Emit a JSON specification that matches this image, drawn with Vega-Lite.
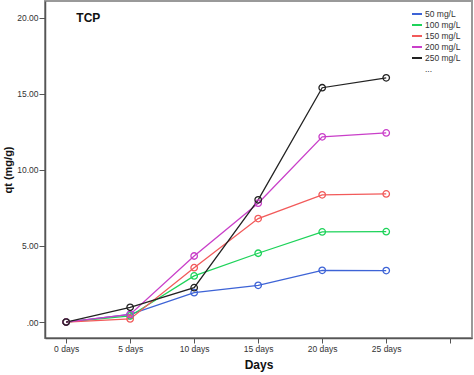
{
  "$schema": "https://vega.github.io/schema/vega-lite/v6.json",
  "autosize": {"type": "none"},
  "width": 427,
  "height": 337,
  "padding": {"left": 45, "top": 1, "right": 2, "bottom": 37},
  "background": "white",
  "config": {
    "font": "Liberation Sans",
    "view": {"stroke": "#999999", "strokeWidth": 2}
  },
  "datasets": {
    "series": [
      {"day": 0, "series": "50 mg/L", "qt": 0},
      {"day": 5, "series": "50 mg/L", "qt": 0.5},
      {"day": 10, "series": "50 mg/L", "qt": 1.93},
      {"day": 15, "series": "50 mg/L", "qt": 2.41},
      {"day": 20, "series": "50 mg/L", "qt": 3.4},
      {"day": 25, "series": "50 mg/L", "qt": 3.38},
      {"day": 0, "series": "100 mg/L", "qt": 0},
      {"day": 5, "series": "100 mg/L", "qt": 0.4},
      {"day": 10, "series": "100 mg/L", "qt": 3.03},
      {"day": 15, "series": "100 mg/L", "qt": 4.52},
      {"day": 20, "series": "100 mg/L", "qt": 5.92},
      {"day": 25, "series": "100 mg/L", "qt": 5.94},
      {"day": 0, "series": "150 mg/L", "qt": 0},
      {"day": 5, "series": "150 mg/L", "qt": 0.2},
      {"day": 10, "series": "150 mg/L", "qt": 3.57},
      {"day": 15, "series": "150 mg/L", "qt": 6.8},
      {"day": 20, "series": "150 mg/L", "qt": 8.36},
      {"day": 25, "series": "150 mg/L", "qt": 8.42},
      {"day": 0, "series": "200 mg/L", "qt": 0},
      {"day": 5, "series": "200 mg/L", "qt": 0.5},
      {"day": 10, "series": "200 mg/L", "qt": 4.34},
      {"day": 15, "series": "200 mg/L", "qt": 7.81},
      {"day": 20, "series": "200 mg/L", "qt": 12.17},
      {"day": 25, "series": "200 mg/L", "qt": 12.43},
      {"day": 0, "series": "250 mg/L", "qt": 0},
      {"day": 5, "series": "250 mg/L", "qt": 0.97},
      {"day": 10, "series": "250 mg/L", "qt": 2.26},
      {"day": 15, "series": "250 mg/L", "qt": 8.03},
      {"day": 20, "series": "250 mg/L", "qt": 15.4},
      {"day": 25, "series": "250 mg/L", "qt": 16.05}
    ],
    "label": [
      {"day": 0.8, "qt": 20, "text": "TCP"}
    ]
  },
  "data": {"name": "series"},
  "encoding": {
    "x": {
      "field": "day", "type": "quantitative",
      "scale": {"domain": [-1.65, 31.7], "nice": false, "zero": false},
      "axis": {
        "values": [0, 5, 10, 15, 20, 25, 30],
        "labelExpr": "datum.value <= 25 ? datum.value + ' days' : ''",
        "title": "Days", "titleFontSize": 12, "titleFontWeight": "bold", "titleColor": "#111",
        "titlePadding": 7,
        "labelFontSize": 8.5, "labelColor": "#333", "labelPadding": 1,
        "tickSize": 5, "tickColor": "#555", "domainColor": "#555", "domainWidth": 1.5,
        "grid": false
      }
    },
    "y": {
      "field": "qt", "type": "quantitative",
      "scale": {"domain": [-1.05, 21.1], "nice": false, "zero": false},
      "axis": {
        "values": [0, 5, 10, 15, 20],
        "labelExpr": "datum.value == 0 ? '.00' : format(datum.value, '.2f')",
        "title": "qt (mg/g)", "titleFontSize": 11, "titleFontWeight": "bold", "titleColor": "#111",
        "titlePadding": 3,
        "labelFontSize": 8.5, "labelColor": "#333", "labelPadding": 1,
        "tickSize": 6, "tickColor": "#555", "domainColor": "#555", "domainWidth": 1.5,
        "grid": false
      }
    }
  },
  "layer": [
    {
      "mark": {"type": "line", "strokeWidth": 1.3},
      "encoding": {
        "color": {
          "field": "series", "type": "nominal",
          "scale": {
            "domain": ["50 mg/L", "100 mg/L", "150 mg/L", "200 mg/L", "250 mg/L", "..."],
            "range": ["#3d63d6", "#1ed35a", "#f25a5a", "#c93fc9", "#222222", "transparent"]
          },
          "legend": {
            "title": null, "orient": "none", "legendX": 366, "legendY": 7,
            "symbolType": "stroke", "symbolSize": 100, "symbolStrokeWidth": 2,
            "labelFontSize": 8.5, "labelColor": "#333", "rowPadding": -0.8, "labelOffset": 2
          }
        }
      }
    },
    {
      "mark": {"type": "point", "filled": false, "size": 42, "strokeWidth": 1.3, "opacity": 1},
      "encoding": {
        "color": {"field": "series", "type": "nominal", "legend": null}
      }
    },
    {
      "data": {"name": "label"},
      "mark": {"type": "text", "fontSize": 12, "fontWeight": "bold", "align": "left", "baseline": "middle", "color": "#111"},
      "encoding": {
        "text": {"field": "text", "type": "nominal"}
      }
    }
  ]
}
